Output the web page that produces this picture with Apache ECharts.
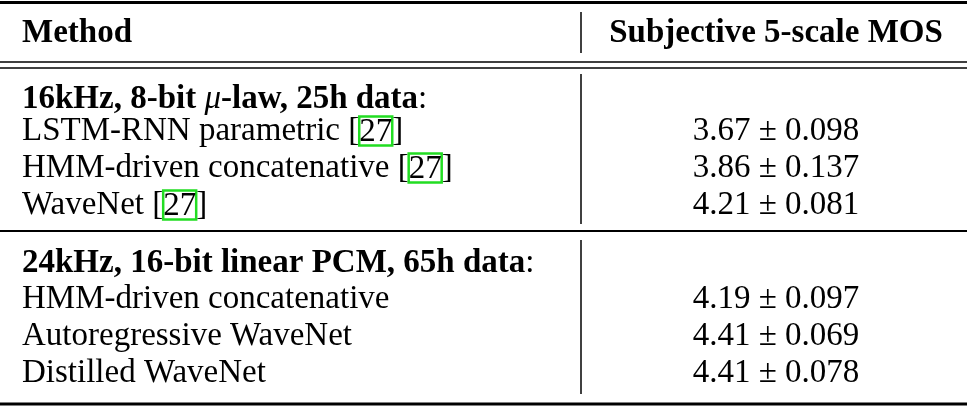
<!DOCTYPE html>
<html><head><meta charset="utf-8">
<script src="https://cdn.jsdelivr.net/npm/echarts@6/dist/echarts.min.js"></script>
<style>html,body{margin:0;padding:0;background:#fff}#c{width:967px;height:408px}</style>
</head><body><div id="c"></div>
<script>
const headers = ['Method', 'Subjective 5-scale MOS'];
const section1 = '{b|16kHz, 8-bit }{mu|μ}{b|-law, 25h data}{n|:}';
const section2 = '{b|24kHz, 16-bit linear PCM, 65h data}{n|:}';
const methods1 = ['LSTM-RNN parametric [{c|27}]', 'HMM-driven concatenative [{c|27}]', 'WaveNet [{c|27}]'];
const mos1 = ['3.67 ± 0.098', '3.86 ± 0.137', '4.21 ± 0.081'];
const methods2 = ['HMM-driven concatenative', 'Autoregressive WaveNet', 'Distilled WaveNet'];
const mos2 = ['4.19 ± 0.097', '4.41 ± 0.069', '4.41 ± 0.078'];

const F = '"Liberation Serif", "Times New Roman", serif', FS = 33;
const rich = {
  b: {fontFamily: F, fontSize: FS, fontWeight: 'bold', fill: '#000'},
  n: {fontFamily: F, fontSize: FS, fill: '#000'},
  mu: {fontFamily: F, fontSize: FS, fontStyle: 'italic', fill: '#000'},
  c: {fontFamily: F, fontSize: FS, fill: '#000', borderColor: '#22dd22', borderWidth: 2.5, padding: [-1, 0, -3, 0], lineHeight: 28}
};
const els = [];
function txt(x, y, t, align, bold) {
  els.push({type: 'text', x, y, style: {text: t, x: 0, y: 0, align: align || 'left', verticalAlign: 'middle',
    fontFamily: F, fontSize: FS, fontWeight: bold ? 'bold' : 'normal', fill: '#000', rich}});
}
function hline(y, w) { els.push({type: 'line', shape: {x1: 0, y1: y, x2: 967, y2: y}, style: {stroke: '#000', lineWidth: w}}); }
function vline(y1, y2) { els.push({type: 'line', shape: {x1: 581, y1, x2: 581, y2}, style: {stroke: '#000', lineWidth: 1.5}}); }

const LX = 22, VX = 776, RH = 37;
hline(2.5, 3);
txt(LX, 33, headers[0], 'left', true);
txt(776, 33, headers[1], 'center', true);
vline(12, 53);
hline(62, 1.5); hline(68, 1.5);
txt(LX, 99, section1);
methods1.forEach((m, i) => { txt(LX, 131 + i * RH, '{n|' + m.split('{c|27}').join('}{c|27}{n|') + '}'); txt(VX, 131 + i * RH, mos1[i], 'center'); });
vline(74, 224);
hline(231, 2);
txt(LX, 263, section2);
methods2.forEach((m, i) => { txt(LX, 299 + i * RH, m); txt(VX, 299 + i * RH, mos2[i], 'center'); });
vline(240, 394);
hline(404, 3);

const chart = echarts.init(document.getElementById('c'));
chart.setOption({animation: false, graphic: {elements: els}});
</script></body></html>
